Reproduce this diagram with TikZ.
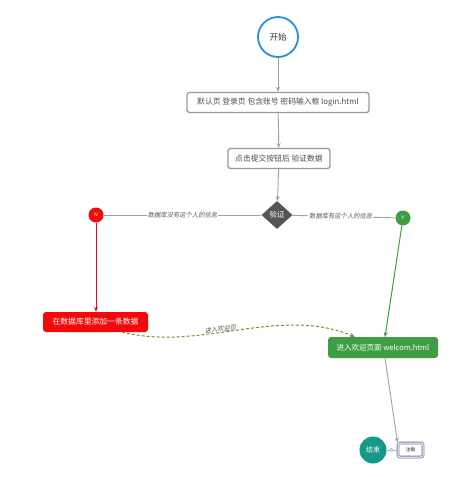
\documentclass[tikz,border=0pt]{standalone}
\usepackage{fontspec}
\setmainfont{Liberation Sans}
\newfontfamily\cjk{Noto Sans CJK SC}
\newfontfamily\cjkit[FakeSlant=0.2]{Noto Sans CJK SC}
\usetikzlibrary{shapes.geometric,arrows.meta,positioning}
\definecolor{startblue}{HTML}{2A8FE0}
\definecolor{boxgray}{HTML}{9A9A9A}
\definecolor{linegray}{HTML}{A0A0A0}
\definecolor{diagray}{HTML}{555555}
\definecolor{nred}{HTML}{F20A0A}
\definecolor{ygreen}{HTML}{3F9E45}
\definecolor{endteal}{HTML}{14998A}
\definecolor{olive}{HTML}{7C8A3A}
\definecolor{noteblue}{HTML}{6E7BA6}
\tikzset{
  every node/.style={font=\cjk\fontsize{7.8}{9}\selectfont},
  procbox/.style={draw=boxgray, line width=1.3pt, rounded corners=2.5pt, fill=white, text=black!70, inner xsep=3pt, minimum height=20pt},
  conn/.style={draw=linegray, line width=0.9pt, -{Stealth[length=5pt,width=4pt]}},
  edgelabel/.style={font=\cjkit\fontsize{6.3}{7}\selectfont, text=black!65, fill=white, inner sep=1pt},
}
\begin{document}
\begin{tikzpicture}[x=1pt,y=-1pt]
\useasboundingbox (0,0) rectangle (474,477);
\fill[white] (0,0) rectangle (474,477);
% nodes
\node[circle, draw=startblue, line width=1.8pt, minimum size=40pt, fill=white, font=\cjk\fontsize{8.5}{10}\selectfont, text=black!80] (start) at (278,37) {开始};
\node[procbox, minimum width=182pt] (login) at (278,102.5) {默认页 登录页 包含账号 密码输入框 login.html};
\node[procbox, minimum width=102pt] (submit) at (279,158.5) {点击提交按钮后 验证数据};
\node[diamond, fill=diagray, text=white, minimum width=31pt, minimum height=28pt, inner sep=0pt, font=\cjk\fontsize{7.5}{8}\selectfont] (check) at (277,215) {验证};
\node[circle, fill=nred, minimum size=15pt, inner sep=0pt, text=white, font=\sffamily\fontsize{5}{6}\selectfont] (N) at (96,215) {N};
\node[circle, fill=ygreen, minimum size=15pt, inner sep=0pt, text=white, font=\sffamily\fontsize{5}{6}\selectfont] (Y) at (403,218) {Y};
\node[rounded corners=3pt, fill=nred, text=white, minimum width=105pt, minimum height=20pt, inner xsep=2pt] (add) at (95.5,322) {在数据库里添加一条数据};
\node[rounded corners=3pt, fill=ygreen, text=white, minimum width=110pt, minimum height=21pt, inner xsep=2pt, font=\cjk\fontsize{7.5}{9}\selectfont] (welcome) at (383,347.5) {进入欢迎页面 welcom.html};
\node[circle, fill=endteal, text=white, minimum size=27pt, inner sep=0pt, font=\cjk\fontsize{7}{8}\selectfont] (end) at (373,450) {结束};
\node[draw=noteblue, double=white, double distance=1pt, line width=0.8pt, rounded corners=2pt, fill=white, minimum width=25pt, minimum height=14pt, inner sep=0pt, font=\cjk\fontsize{4.5}{5}\selectfont] (note) at (410.5,450) {注销};
% connectors
\draw[conn] (start) -- (login);
\draw[conn] (login) -- (submit);
\draw[conn] (submit) -- (check);
\draw[draw=linegray, line width=0.9pt] (check) -- node[edgelabel, pos=0.5] {数据库没有这个人的信息} (N);
\draw[draw=linegray, line width=0.9pt] (check) -- node[edgelabel, pos=0.47] {数据库有这个人的信息} (Y);
\draw[draw=nred, line width=1pt, -{Stealth[length=5pt,width=4pt]}] (N) -- (add.north -| N);
\draw[draw=ygreen, line width=1pt, -{Stealth[length=5pt,width=4pt]}] (Y) -- (385,337.2);
\draw[draw=olive, line width=1pt, dashed, dash pattern=on 3pt off 2pt, -{Stealth[length=5pt,width=4pt]}] (122,332) .. controls (200,352) and (280,305) .. (355,337) node[pos=0.42, edgelabel, fill=none, above=-1pt, sloped] {进入欢迎页};
\draw[conn] (welcome.south -| 385,0) -- (note.north west);
\draw[draw=noteblue!60, line width=0.6pt] (end) -- (note);
\fill[white, draw=noteblue!70, line width=0.5pt] (391.5,450) circle (1.6pt);
\end{tikzpicture}
\end{document}
